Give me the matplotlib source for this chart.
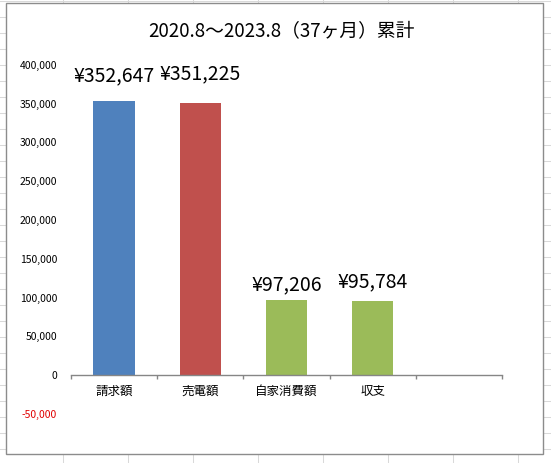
import numpy as np
import matplotlib
matplotlib.use('Agg')
import matplotlib.pyplot as plt
from matplotlib.patches import Rectangle

plt.rcParams['font.family'] = ['Noto Sans CJK JP', 'DejaVu Sans']

# data
title = '2020.8～2023.8（37ヶ月）累計'
categories = ['請求額', '売電額', '自家消費額', '収支']
values = [352647, 351225, 97206, 95784]
n_slots = 5  # the Excel chart has one empty category at the end
yticks = list(range(-50000, 400001, 50000))

bar_colors = ['#4F81BD', '#C0504D', '#9BBB59', '#9BBB59']
# data labels were moved by hand in the original, so each has its own lift (pt)
label_lift = [14.4, 16.8, 6.7, 9.4]

W, H = 551, 463
fig = plt.figure(figsize=(W / 100, H / 100), dpi=100)

# spreadsheet cells behind the chart object
bg = fig.add_axes([0, 0, 1, 1], zorder=0)
bg.set_xlim(0, W)
bg.set_ylim(H, 0)
bg.axis('off')
for y in np.arange(1.3, H, 16):
    bg.axhline(y, color='#d9d9d9', lw=0.75, zorder=0)
for x in np.arange(63, W, 65):
    bg.axvline(x, color='#d9d9d9', lw=0.75, zorder=0)
bg.add_patch(Rectangle((5.7, 3.3), 543 - 5.7, 454 - 3.3,
                       facecolor='white', edgecolor='#8c8c8c', lw=1.0, zorder=5))

# plot area
ax = fig.add_axes([71 / W, 1 - 414 / H, (502 - 71) / W, (414 - 64.7) / H], zorder=1)
ax.patch.set_alpha(0)

xpos = np.arange(len(values))
ax.bar(xpos, values, width=0.48, color=bar_colors, zorder=2)

for x, v, lift in zip(xpos, values, label_lift):
    ax.annotate(f'¥{v:,}', (x, v), xytext=(0, lift), textcoords='offset points',
                ha='center', va='baseline', fontsize=14, color='black')

ax.set_xlim(-0.5, n_slots - 0.5)
ax.set_ylim(-50000, 400000)

for s in ['left', 'right', 'top']:
    ax.spines[s].set_visible(False)
ax.spines['bottom'].set_position(('data', 0))
ax.spines['bottom'].set_color('#868686')
ax.spines['bottom'].set_linewidth(1.0)

# category names at centers, tick marks at the slot borders
ax.set_xticks(xpos)
ax.set_xticklabels(categories, fontsize=9)
ax.set_xticks(np.arange(-0.5, n_slots), minor=True)
ax.tick_params(axis='x', which='major', length=0, pad=7)
ax.tick_params(axis='x', which='minor', length=3, width=1.0, color='#868686')

ax.set_yticks(yticks)
ax.set_yticklabels([f'{v:,}' for v in yticks], fontsize=7.5)
ax.tick_params(axis='y', length=0, pad=10)
for lab, v in zip(ax.get_yticklabels(), yticks):
    lab.set_color('#E00000' if v < 0 else 'black')

fig.text(281 / W, 1 - 36.7 / H, title, ha='center', va='baseline', fontsize=13.5)

fig.savefig('out.png', dpi=100)
